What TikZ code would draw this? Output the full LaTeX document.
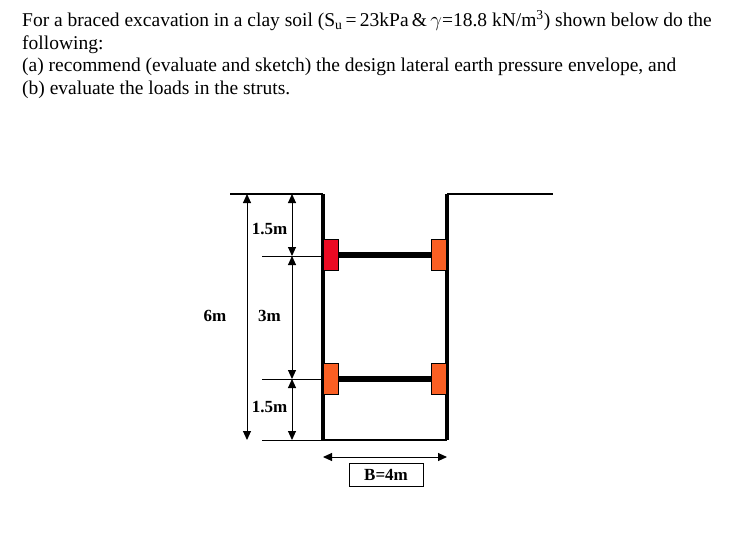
\documentclass[tikz,border=0pt]{standalone}
\usetikzlibrary{arrows.meta}
\usepackage{fontspec}
\setmainfont{Liberation Serif}
\definecolor{wred}{RGB}{235,10,35}
\definecolor{worange}{RGB}{250,95,35}
\begin{document}
\begin{tikzpicture}[x=1pt,y=-1pt,
  wall/.style={line width=3.5pt},
  thin/.style={line width=0.8pt},
  dim/.style={line width=1pt,{Triangle[length=9pt,width=8pt]}-{Triangle[length=9pt,width=8pt]}},
  strut/.style={line width=6pt},
  waler/.style={draw=black,line width=0.6pt,minimum width=15pt,minimum height=31pt,inner sep=0pt},
  lbl/.style={font=\bfseries\fontsize{17}{19}\selectfont,inner sep=1pt},
  para/.style={anchor=north west,align=left,inner sep=0pt,font=\fontsize{19.5}{22.5}\selectfont}]
\useasboundingbox (0,0) rectangle (746,541);
\node[para] (txt) at (22,10) {For a braced excavation in a clay soil (S\textsubscript{u}\,=\,23kPa\,\&\,$\gamma$=18.8 kN/m\textsuperscript{3}) shown below do the\\following:\\(a) recommend (evaluate and sketch) the design lateral earth pressure envelope, and\\(b) evaluate the loads in the struts.};
% ground and walls
\coordinate (gl) at (230,194);
\coordinate (lt) at (323,194);
\coordinate (lb) at (323,440);
\coordinate (rb) at (447,440);
\coordinate (rt) at (447,194);
\coordinate (gr) at (553,194);
\draw[line width=2pt] (gl) -- (lt);
\draw[line width=2pt] (rt) -- (gr);
\draw[wall] (lt) -- (lb);
\draw[wall] (rt) -- (rb);
\draw[line width=2pt] (lb) -- (rb);
% struts
\node[waler,fill=wred] (w1) at (330.5,255) {};
\node[waler,fill=worange] (w2) at (439,255) {};
\node[waler,fill=worange] (w3) at (330.5,379) {};
\node[waler,fill=worange] (w4) at (439,379) {};
\draw[strut] (w1.east) -- (w2.west);
\draw[strut] (w3.east) -- (w4.west);
% dimension lines
\coordinate (s1) at (262,256);
\coordinate (s2) at (262,379);
\coordinate (s3) at (262,440);
\draw[thin] (s1) -- (323,256);
\draw[thin] (s2) -- (323,379);
\draw[thin] (s3) -- (lb);
\draw[dim] (247,194) -- (247,440);
\draw[dim] (292,194) -- (292,256);
\draw[dim] (292,256) -- (292,379);
\draw[dim] (292,379) -- (292,440);
\node[lbl] (l1) at (269.5,229) {1.5m};
\node[lbl] (l6) at (215,316) {6m};
\node[lbl] (l3) at (269.5,316) {3m};
\node[lbl] (l2) at (269.5,407) {1.5m};
\draw[dim] (323,457) -- (447,457);
\node[lbl,draw,line width=0.8pt,minimum width=74pt,minimum height=23pt] (B) at (386,474.5) {B=4m};
\end{tikzpicture}
\end{document}
